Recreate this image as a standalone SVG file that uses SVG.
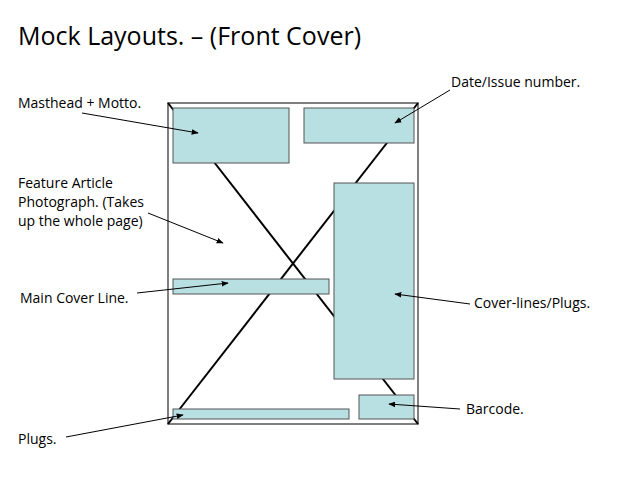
<svg xmlns="http://www.w3.org/2000/svg" width="638" height="478" viewBox="0 0 638 478">
<style>
text{font-family:"Open Sans","Liberation Sans",sans-serif;fill:#000}
.t{font-size:14px}
.b{fill:#b8dfe2;stroke:#555;stroke-width:1}
.a{stroke:#000;stroke-width:1;marker-end:url(#ah)}
</style>
<defs><marker id="ah" viewBox="0 0 10 10" refX="9" refY="5" markerWidth="7" markerHeight="7" orient="auto"><path d="M0,1 L10,5 L0,9z" fill="#000"/></marker></defs>
<rect width="638" height="478" fill="#fff"/>
<text x="18" y="45" font-size="25">Mock Layouts. – (Front Cover)</text>
<g id="page"><rect x="168" y="103" width="250" height="321" fill="none" stroke="#555" stroke-width="1.5"/>
<line x1="168" y1="103" x2="418" y2="424" stroke="#000" stroke-width="2"/>
<line x1="418" y1="103" x2="168" y2="424" stroke="#000" stroke-width="2"/></g>
<g id="masthead"><rect class="b" x="173" y="108" width="116" height="55"/></g>
<g id="date"><rect class="b" x="304" y="108" width="110" height="35"/></g>
<g id="coverlines"><rect class="b" x="334" y="183" width="80" height="196"/></g>
<g id="maincover"><rect class="b" x="173" y="279" width="156" height="15"/></g>
<g id="barcode"><rect class="b" x="359" y="395" width="55" height="24"/></g>
<g id="plugs"><rect class="b" x="173" y="409" width="176" height="10"/></g>
<g id="labels" class="t">
<text x="451" y="87" class="t">Date/Issue number.</text>
<text x="18" y="108" class="t">Masthead + Motto.</text>
<text x="18" y="188" class="t">Feature Article</text>
<text x="18" y="207" class="t">Photograph. (Takes</text>
<text x="18" y="226" class="t">up the whole page)</text>
<text x="20" y="303" class="t">Main Cover Line.</text>
<text x="474" y="308" class="t">Cover-lines/Plugs.</text>
<text x="466" y="414" class="t">Barcode.</text>
<text x="18" y="444" class="t">Plugs.</text>
</g>
<g id="connectors">
<line class="a" x1="82" y1="113" x2="198" y2="133"/>
<line class="a" x1="450" y1="90" x2="395" y2="123"/>
<line class="a" x1="148" y1="213" x2="223" y2="243"/>
<line class="a" x1="137" y1="293" x2="228" y2="283"/>
<line class="a" x1="470" y1="304" x2="395" y2="294"/>
<line class="a" x1="460" y1="409" x2="389" y2="404"/>
<line class="a" x1="66" y1="437" x2="183" y2="415"/>
</g>
</svg>
